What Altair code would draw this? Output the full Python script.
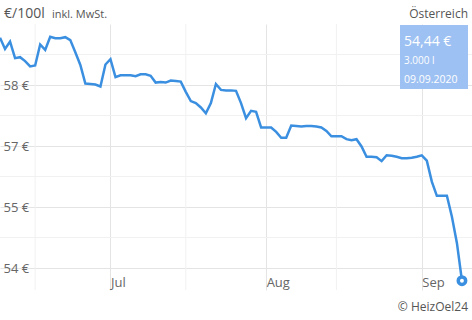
import altair as alt
import pandas as pd

# ---- data ----
dates = pd.date_range("2020-06-09", "2020-09-09", freq="D").strftime("%Y-%m-%d").tolist()
prices = [
    59.42, 59.19, 59.34, 59.00, 59.02, 58.94, 58.83, 58.85, 59.28, 59.17,
    59.44, 59.41, 59.41, 59.43, 59.37, 59.12, 58.86, 58.48, 58.47, 58.46,
    58.42, 58.87, 58.98, 58.61, 58.65, 58.65, 58.65, 58.63, 58.67, 58.67,
    58.64, 58.50, 58.51, 58.50, 58.54, 58.53, 58.52, 58.31, 58.12, 58.08,
    57.99, 57.87, 58.08, 58.47, 58.35, 58.34, 58.34, 58.33, 58.08, 57.77,
    57.92, 57.90, 57.58, 57.58, 57.58, 57.49, 57.37, 57.37, 57.62, 57.61,
    57.60, 57.61, 57.61, 57.60, 57.58, 57.51, 57.40, 57.40, 57.40, 57.34,
    57.32, 57.34, 57.19, 56.98, 56.98, 56.97, 56.89, 57.01, 57.00, 56.98,
    56.95, 56.95, 56.96, 56.98, 57.01, 56.90, 56.47, 56.18, 56.18, 56.18,
    55.75, 55.21, 54.44,
]
y_ticks = [54.7, 55.95, 57.2, 58.45]
y_tick_labels = ["54 €", "55 €", "57 €", "58 €"]
y_minor = [55.325, 56.575, 57.825, 59.075]
x_ticks = ["2020-07-01", "2020-08-01", "2020-09-01"]
x_tick_labels = ["Jul", "Aug", "Sep"]
x_minor = ["2020-06-16", "2020-07-16", "2020-08-15"]
amount_label = "3.000 l"
date_label = "09.09.2020"

df = pd.DataFrame({"date": dates, "price": prices})
last = df.tail(1)
value_label = f"{prices[-1]:.2f}".replace(".", ",") + " €"

FONT = "Open Sans"
xscale = alt.Scale(type="utc", domain=[alt.DateTime(year=2020, month=6, date=9, utc=True),
                                       alt.DateTime(year=2020, month=9, date=11, utc=True)])
yscale = alt.Scale(domain=[54.25, 59.7], nice=False, zero=False)

y_label_expr = " : ".join(
    [f"datum.value == {v} ? '{l}'" for v, l in zip(y_ticks, y_tick_labels)]
) + " : ''"
x_label_expr = " : ".join(
    [f"utcFormat(datum.value, '%Y-%m-%d') == '{d}' ? '{l}'" for d, l in zip(x_ticks, x_tick_labels)]
) + " : ''"

x_vals = [alt.DateTime(year=int(s[:4]), month=int(s[5:7]), date=int(s[8:]), utc=True) for s in x_ticks]

xaxis = alt.Axis(values=x_vals, labelExpr=x_label_expr, grid=True, gridColor="#e4e4e4",
                 domain=False, ticks=False, tickSize=0, labelAlign="left",
                 labelBaseline="alphabetic", labelPadding=-4, labelFlush=False,
                 labelFont=FONT, labelFontSize=13, labelColor="#666666", title=None)
yaxis = alt.Axis(values=y_ticks, labelExpr=y_label_expr, grid=True, gridColor="#e4e4e4",
                 domain=False, ticks=False, tickSize=0, labelAlign="left",
                 labelBaseline="middle", labelPadding=-3, labelFlush=False,
                 labelFont=FONT, labelFontSize=13, labelColor="#666666", title=None)

line = alt.Chart(df).mark_line(color="#3b8fe0", strokeWidth=2.5).encode(
    x=alt.X("date:T", scale=xscale, axis=xaxis),
    y=alt.Y("price:Q", scale=yscale, axis=yaxis),
)

minor_h = alt.Chart(pd.DataFrame({"price": y_minor})).mark_rule(color="#f1f1f1", strokeWidth=1).encode(
    y=alt.Y("price:Q", scale=yscale, axis=yaxis)
)
minor_v = alt.Chart(pd.DataFrame({"date": x_minor})).mark_rule(color="#f1f1f1", strokeWidth=1).encode(
    x=alt.X("date:T", scale=xscale, axis=xaxis)
)

pt = alt.Chart(last).mark_point(shape="circle", filled=False, fill="white", fillOpacity=1,
                                 stroke="#3b8fe0", strokeWidth=3.5, size=55, opacity=1).encode(
    x=alt.X("date:T", scale=xscale, axis=xaxis), y=alt.Y("price:Q", scale=yscale, axis=yaxis)
)

one = pd.DataFrame({"a": [0]})

def txt(text, x, y, size, color="#555555", align="left"):
    return alt.Chart(one).mark_text(text=text, font=FONT, fontSize=size, color=color,
                                    align=align, baseline="alphabetic").encode(
        x=alt.value(x), y=alt.value(y))

box = alt.Chart(one).mark_rect(color="#9dc1f2").encode(
    x=alt.value(400), x2=alt.value(468), y=alt.value(1), y2=alt.value(65)
)

chart = alt.layer(
    minor_h, minor_v, line, pt, box,
    txt(value_label, 404, 22, 14, "#ffffff"),
    txt(amount_label, 404, 39.5, 10, "#ffffff"),
    txt(date_label, 404, 58.5, 10.5, "#ffffff"),
    txt("€/100l", 4, -6, 14),
    txt("inkl. MwSt.", 52, -6, 11),
    txt("Österreich", 468, -6, 12, align="right"),
    txt("© HeizOel24", 468, 287, 12, align="right"),
).properties(
    width=472, height=266,
    autosize=alt.AutoSizeParams(type="none"),
    padding={"left": 0, "top": 24, "right": 0, "bottom": 30},
).configure_view(stroke=None)

chart.save("out.html", embed_options={"renderer": "svg", "actions": False})
